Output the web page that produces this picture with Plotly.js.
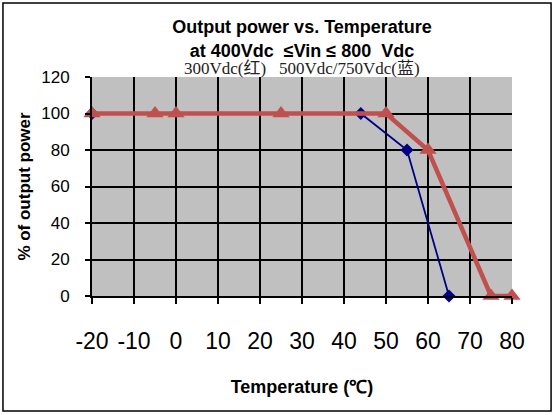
<!DOCTYPE html>
<html>
<head>
<meta charset="utf-8">
<script src="https://cdn.plot.ly/plotly-3.0.1.min.js"></script>
<style>
  html, body { margin: 0; padding: 0; background: #fff; }
  #chart { width: 558px; height: 415px; }
</style>
</head>
<body>
<div id="chart"></div>
<script>
// 300Vdc (red)
var tempRed  = [-20, -5, 0, 25, 50, 60, 75, 80];
var powerRed = [100, 100, 100, 100, 100, 80, 0, 0];

// 500Vdc / 750Vdc (blue)
var tempBlue  = [-20, 44, 55, 65];
var powerBlue = [100, 100, 80, 0];

var xTicks = [-20, -10, 0, 10, 20, 30, 40, 50, 60, 70, 80];
var yTicks = [0, 20, 40, 60, 80, 100, 120];

var blue = {
  x: tempBlue,
  y: powerBlue,
  mode: 'lines+markers',
  line: { color: '#000080', width: 1.8 },
  marker: { symbol: 'diamond', size: 10, color: '#000080' },
  cliponaxis: false
};

var red = {
  x: tempRed,
  y: powerRed,
  mode: 'lines+markers',
  line: { color: '#c0504d', width: 4.5 },
  marker: { symbol: 'triangle-up', size: 15, color: '#c0504d' },
  cliponaxis: false
};

var layout = {
  width: 558,
  height: 415,
  margin: { l: 92, r: 46, t: 77, b: 119 },
  paper_bgcolor: '#ffffff',
  plot_bgcolor: '#c0c0c0',
  showlegend: false,
  font: { family: 'Liberation Sans, Arial, sans-serif', color: '#000' },
  title: {
    text: '<b>Output power vs. Temperature<br>at 400Vdc  ≤Vin ≤ 800  Vdc</b>',
    font: { size: 18, color: '#000' },
    xref: 'paper', x: 0.5,
    yref: 'container', y: 0.92, yanchor: 'middle'
  },
  xaxis: {
    range: [-20, 80],
    tickvals: xTicks,
    ticktext: xTicks.map(String),
    tickfont: { size: 23 },
    ticklabelstandoff: 17,
    ticks: 'outside', ticklen: 6, tickwidth: 2, tickcolor: '#000',
    showline: true, linecolor: '#000', linewidth: 2,
    showgrid: true, gridcolor: '#000', gridwidth: 2,
    zeroline: false,
    title: { text: '<b>Temperature (℃)</b>', font: { size: 18 }, standoff: 28 }
  },
  yaxis: {
    range: [0, 120],
    tickvals: yTicks,
    tickfont: { size: 17 },
    ticklabelstandoff: 12,
    ticks: 'outside', ticklen: 5, tickwidth: 2, tickcolor: '#000',
    showline: true, linecolor: '#000', linewidth: 2,
    showgrid: true, gridcolor: '#000', gridwidth: 2,
    zeroline: false,
    title: { text: '<b>% of output power</b>', font: { size: 17 }, standoff: 6 }
  },
  annotations: [{
    text: '300Vdc(红)   500Vdc/750Vdc(蓝)',
    xref: 'paper', yref: 'paper',
    x: 0.5, y: 1.037, yanchor: 'middle', showarrow: false,
    font: { family: 'Liberation Serif, Noto Sans CJK SC, serif', size: 17, color: '#222' }
  }],
  shapes: [{
    type: 'rect', xref: 'paper', yref: 'paper',
    x0: -0.212, x1: 1.093, y0: -0.525, y1: 1.338,
    line: { color: '#000', width: 1.5 }
  }]
};

Plotly.newPlot('chart', [blue, red], layout, { displayModeBar: false, staticPlot: true });
</script>
</body>
</html>
